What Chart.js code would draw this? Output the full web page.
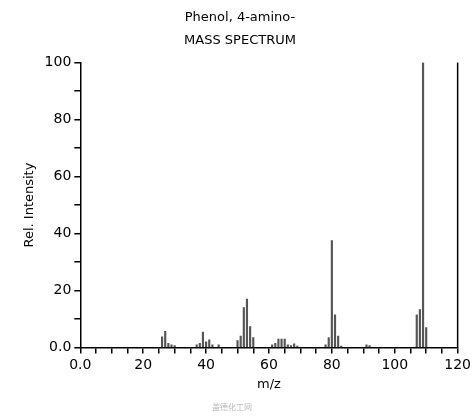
<!DOCTYPE html>
<html>
<head>
<meta charset="utf-8">
<script src="https://cdn.jsdelivr.net/npm/chart.js@4"></script>
<style>
  body { margin: 0; background: #fff; }
  #wrap { position: relative; width: 474px; height: 416px; }
  #mark { position: absolute; left: 212px; top: 401px; font: 8px "Noto Sans CJK SC"; color: #bbb; }
</style>
</head>
<body>
<div id="wrap"><canvas id="c" width="474" height="416"></canvas><div id="mark">盖德化工网</div></div>
<script>
// m/z values and relative intensities
const mz = [26, 27, 28, 29, 30, 37, 38, 39, 40, 41, 42, 44, 50, 51, 52, 53, 54, 55,
            61, 62, 63, 64, 65, 66, 67, 68, 69, 78, 79, 80, 81, 82, 83, 91, 92, 107, 108, 109, 110];
const intensity = [3.8, 5.7, 1.5, 1, 0.7, 1, 1.5, 5.4, 2, 2.7, 1, 1, 2.5, 4, 14, 17, 7.4, 3.5,
                   1, 1.5, 3, 3, 3, 1, 0.7, 1.3, 0.5, 1, 3.5, 37.5, 11.5, 4, 0.5, 1, 0.7, 11.5, 13.3, 100, 7];
const xTicks = [0, 5, 10, 15, 20, 25, 30, 35, 40, 45, 50, 55, 60, 65, 70, 75, 80, 85, 90, 95, 100, 105, 110, 115, 120];

const frame = {
    id: 'frame',
    afterDraw(chart) {
        const { ctx, chartArea: a } = chart;
        ctx.save();
        ctx.strokeStyle = '#000';
        ctx.lineWidth = 1.5;
        ctx.beginPath();
        ctx.moveTo(a.right, a.top);
        ctx.lineTo(a.right, a.bottom);
        ctx.stroke();
        ctx.restore();
    }
};

new Chart(document.getElementById('c'), {
    type: 'bar',
    data: {
        datasets: [{
            data: mz.map((m, i) => ({ x: m, y: intensity[i] })),
            backgroundColor: '#555',
            barThickness: 1.5
        }]
    },
    options: {
        responsive: false,
        animation: false,
        layout: { padding: { left: 18, right: 12, bottom: 24 } },
        plugins: {
            legend: { display: false },
            tooltip: { enabled: false },
            title: {
                display: true,
                text: ['Phenol, 4-amino-', 'MASS SPECTRUM'],
                color: '#000',
                font: { family: 'DejaVu Sans', size: 13, weight: 'normal', lineHeight: 1.75 },
                padding: { top: 6, bottom: 11 }
            }
        },
        scales: {
            x: {
                type: 'linear',
                offset: false,
                min: 0, max: 120,
                afterBuildTicks: s => { s.ticks = xTicks.map(v => ({ value: v })); },
                grid: { display: true, drawOnChartArea: false, drawTicks: true, tickLength: 6, offset: false, color: '#000', lineWidth: 1.5 },
                border: { color: '#000', width: 1.5 },
                ticks: {
                    autoSkip: false,
                    color: '#000',
                    font: { family: 'DejaVu Sans', size: 14 },
                    callback: v => v % 20 ? '' : (v === 0 ? '0.0' : String(v)),
                    maxRotation: 0
                },
                title: { display: true, text: 'm/z', color: '#000', font: { family: 'DejaVu Sans', size: 13 }, padding: 0 }
            },
            y: {
                min: 0, max: 100,
                grid: { display: true, drawOnChartArea: false, drawTicks: true, tickLength: 6, color: '#000', lineWidth: 1.5 },
                border: { color: '#000', width: 1.5 },
                ticks: {
                    stepSize: 10,
                    autoSkip: false,
                    color: '#000',
                    font: { family: 'DejaVu Sans', size: 14 },
                    callback: v => v % 20 ? '' : (v === 0 ? '0.0' : String(v))
                },
                title: { display: true, text: 'Rel. Intensity', color: '#000', font: { family: 'DejaVu Sans', size: 13 } }
            }
        }
    },
    plugins: [frame]
});
</script>
</body>
</html>
